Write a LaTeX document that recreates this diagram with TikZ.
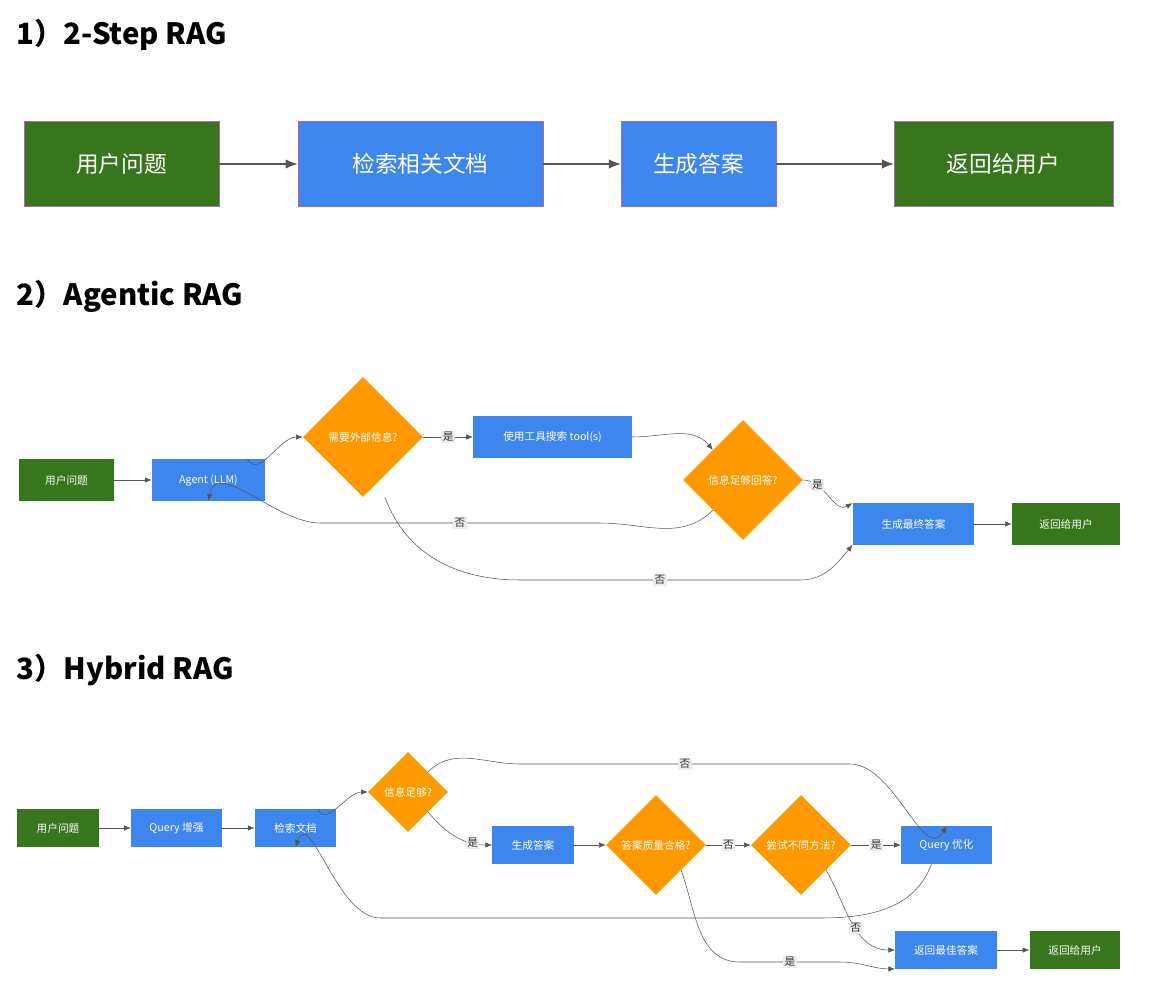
\documentclass[tikz,border=0pt]{standalone}
\usepackage{fontspec}
\setmainfont{Noto Sans CJK SC}
\usetikzlibrary{shapes.geometric,arrows.meta}
\definecolor{leafgreen}{HTML}{38761D}
\definecolor{skyblue}{HTML}{3D86EE}
\definecolor{amber}{HTML}{FF9900}
\definecolor{edgegray}{HTML}{555555}
\tikzset{
  title/.style={anchor=west,font=\bfseries\fontsize{22}{26}\selectfont},
  bigbox/.style={draw=violet!60,fill=#1,text=white,minimum height=63.75pt,inner sep=0pt,font=\fontsize{17}{20}\selectfont},
  box/.style={fill=#1,text=white,inner sep=0pt,font=\fontsize{8}{10}\selectfont},
  ask/.style={diamond,fill=amber,text=white,inner sep=0pt,font=\fontsize{8}{10}\selectfont},
  flow/.style={draw=edgegray,-{Latex[length=5pt,width=4pt]},thin},
  bigflow/.style={draw=edgegray,thick,-{Latex[length=9pt,width=7pt]}},
  tag/.style={fill=gray!15,inner sep=1pt,font=\fontsize{8}{10}\selectfont,text=black!80}
}
\begin{document}
\begin{tikzpicture}[x=0.75pt,y=-0.75pt]
  \useasboundingbox (0,0) rectangle (1156,1002);
  % 1) 2-Step RAG
  \node[title] (t1) at (12,35) {1）2-Step RAG};
  \node[bigbox=leafgreen,minimum width=146pt] (q1) at (121.5,164) {用户问题};
  \node[bigbox=skyblue,minimum width=184pt] (r1) at (420.5,164) {检索相关文档};
  \node[bigbox=skyblue,minimum width=116pt] (g1) at (698.5,164) {生成答案};
  \node[bigbox=leafgreen,minimum width=164pt] (o1) at (1003.5,164) {返回给用户};
  \draw[bigflow] (q1) -- (r1);
  \draw[bigflow] (r1) -- (g1);
  \draw[bigflow] (g1) -- (o1);

  % 2) Agentic RAG
  \node[title] (t2) at (12,296) {2）Agentic RAG};
  \node[box=leafgreen,minimum width=71pt,minimum height=31pt] (q2) at (66.5,480) {用户问题};
  \node[box=skyblue,minimum width=85pt,minimum height=31pt] (a2) at (208.5,480) {Agent (LLM)};
  \node[ask,minimum width=90pt,minimum height=90pt] (n2) at (363,437) {需要外部信息?};
  \node[box=skyblue,minimum width=119pt,minimum height=31pt] (s2) at (552.5,437) {使用工具搜索 tool(s)};
  \node[ask,minimum width=90pt,minimum height=90pt] (e2) at (743,480) {信息足够回答?};
  \node[box=skyblue,minimum width=91pt,minimum height=31pt] (f2) at (913.5,524) {生成最终答案};
  \node[box=leafgreen,minimum width=81pt,minimum height=31pt] (o2) at (1066,524) {返回给用户};
  \draw[flow] (q2) -- (a2);
  \draw[flow] (a2.north east) ++(-18,0) coordinate (a2t) (a2t) to[out=-60,in=180] (n2.west);
  \draw[flow] (n2.east) -- node[tag] {是} (s2.west);
  \draw[flow] (s2.east) to[out=0,in=130] (e2.north west);
  \draw[flow] (e2.east) to[out=0,in=-150] node[tag,pos=0.25] {是} (f2.north west);
  \draw[flow] (e2.south west) to[out=-135,in=0] (600,523) -- node[tag] {否} (320,523) to[out=180,in=80] (a2.south);
  \draw[flow] (n2.south) ++(22,0) coordinate (n2b) (n2b) to[out=-70,in=180] (520,580) -- node[tag] {否} (800,580) to[out=0,in=-130] (f2.south west);
  \draw[flow] (f2) -- (o2);

  % 3) Hybrid RAG
  \node[title] (t3) at (12,670) {3）Hybrid RAG};
  \node[box=leafgreen,minimum width=61pt,minimum height=28pt] (q3) at (58,828) {用户问题};
  \node[box=skyblue,minimum width=68pt,minimum height=28pt] (u3) at (176.5,828) {Query 增强};
  \node[box=skyblue,minimum width=61pt,minimum height=28pt] (r3) at (295.5,828) {检索文档};
  \node[ask,minimum width=60pt,minimum height=60pt] (i3) at (408,792) {信息足够?};
  \node[box=skyblue,minimum width=61pt,minimum height=28pt] (g3) at (533,845) {生成答案};
  \node[ask,minimum width=75pt,minimum height=75pt] (c3) at (656,845) {答案质量合格?};
  \node[ask,minimum width=75pt,minimum height=75pt] (d3) at (801,845) {尝试不同方法?};
  \node[box=skyblue,minimum width=68pt,minimum height=28pt] (p3) at (946.5,845) {Query 优化};
  \node[box=skyblue,minimum width=76pt,minimum height=28pt] (b3) at (946,950) {返回最佳答案};
  \node[box=leafgreen,minimum width=68pt,minimum height=28pt] (o3) at (1075,950) {返回给用户};
  \draw[flow] (q3) -- (u3);
  \draw[flow] (u3) -- (r3);
  \draw[flow] (r3.north east) ++(-18,0) coordinate (r3t) (r3t) to[out=-70,in=180] (i3.west);
  \draw[flow] (i3.north east) to[out=45,in=180] (520,764) -- node[tag] {否} (850,764) to[out=0,in=-120] (p3.north);
  \draw[flow] (i3.south east) to[out=-50,in=180] node[tag,pos=0.75] {是} (g3.west);
  \draw[flow] (g3) -- (c3);
  \draw[flow] (c3) -- node[tag] {否} (d3);
  \draw[flow] (d3) -- node[tag] {是} (p3);
  \draw[flow] (p3.south) ++(-15,0) coordinate (p3b) (p3b) to[out=-110,in=0] (820,918) -- (380,918) to[out=180,in=70] (r3.south);
  \draw[flow] (d3.south east) to[out=-60,in=180] node[tag,pos=0.55] {否} (b3.west);
  \draw[flow] (c3.south east) to[out=-70,in=180] (740,962) -- node[tag] {是} (840,962) to[out=0,in=180] (b3.south west);
  \draw[flow] (b3) -- (o3);
\end{tikzpicture}
\end{document}
